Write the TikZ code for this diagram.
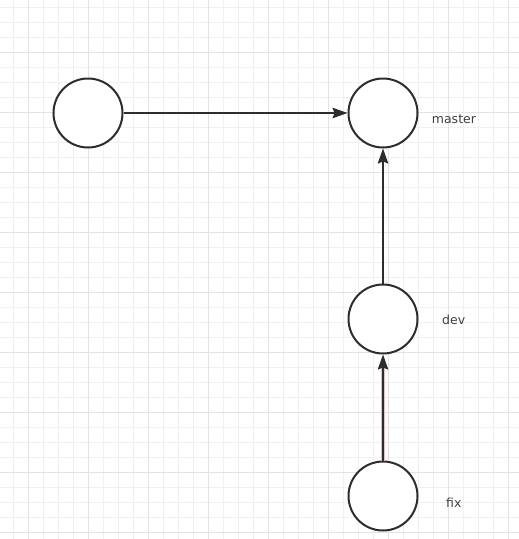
\documentclass[tikz,border=0pt]{standalone}
\usepackage{fontspec}
\newfontfamily\lblfont{DejaVu Sans}
\usetikzlibrary{arrows.meta}
\definecolor{gridlight}{RGB}{240,240,240}
\definecolor{griddark}{RGB}{227,227,227}
\definecolor{inkc}{RGB}{45,45,45}
\definecolor{textc}{RGB}{64,64,64}
\definecolor{selpink}{RGB}{235,190,190}
\tikzset{
  commit/.style={circle, draw=inkc, line width=2pt, fill=white, minimum size=69pt, inner sep=0pt},
  branchlabel/.style={anchor=base west, inner sep=0pt, text=textc, font=\lblfont\fontsize{12.5}{14}\selectfont},
  link/.style={draw=inkc, line width=1.5pt, -{Stealth[length=15pt,width=10.5pt,inset=2pt]}},
  gridthin/.style={draw=gridlight, line width=1pt},
  gridthick/.style={draw=griddark, line width=1pt}
}
\begin{document}
\begin{tikzpicture}[x=1pt,y=-1pt]
\useasboundingbox[fill=white] (0,0) rectangle (519,539);
\foreach \i in {0,...,33} \draw[gridthin] ({13.3+15*\i},0) -- ({13.3+15*\i},539);
\foreach \j in {0,...,35} \draw[gridthin] (0,{7.3+15*\j}) -- (519,{7.3+15*\j});
\foreach \i in {0,...,8} \draw[gridthick] ({28.3+60*\i},0) -- ({28.3+60*\i},539);
\foreach \j in {0,...,8} \draw[gridthick] (0,{52.3+60*\j}) -- (519,{52.3+60*\j});

\node[commit] (left) at (88,113) {};
\node[commit] (master) at (383,113) {};
\node[commit] (dev) at (383,319) {};
\node[commit] (fix) at (383,496) {};

\node[branchlabel] (lmaster) at (431.7,123) {master};
\node[branchlabel] (ldev) at (442,324) {dev};
\node[branchlabel] (lfix) at (446,507) {fix};

\draw[draw=selpink, line width=4.5pt, shorten >=10pt] (fix) -- (dev);
\draw[link] (left) -- (master);
\draw[link] (dev) -- (master);
\draw[link] (fix) -- (dev);
\end{tikzpicture}
\end{document}
